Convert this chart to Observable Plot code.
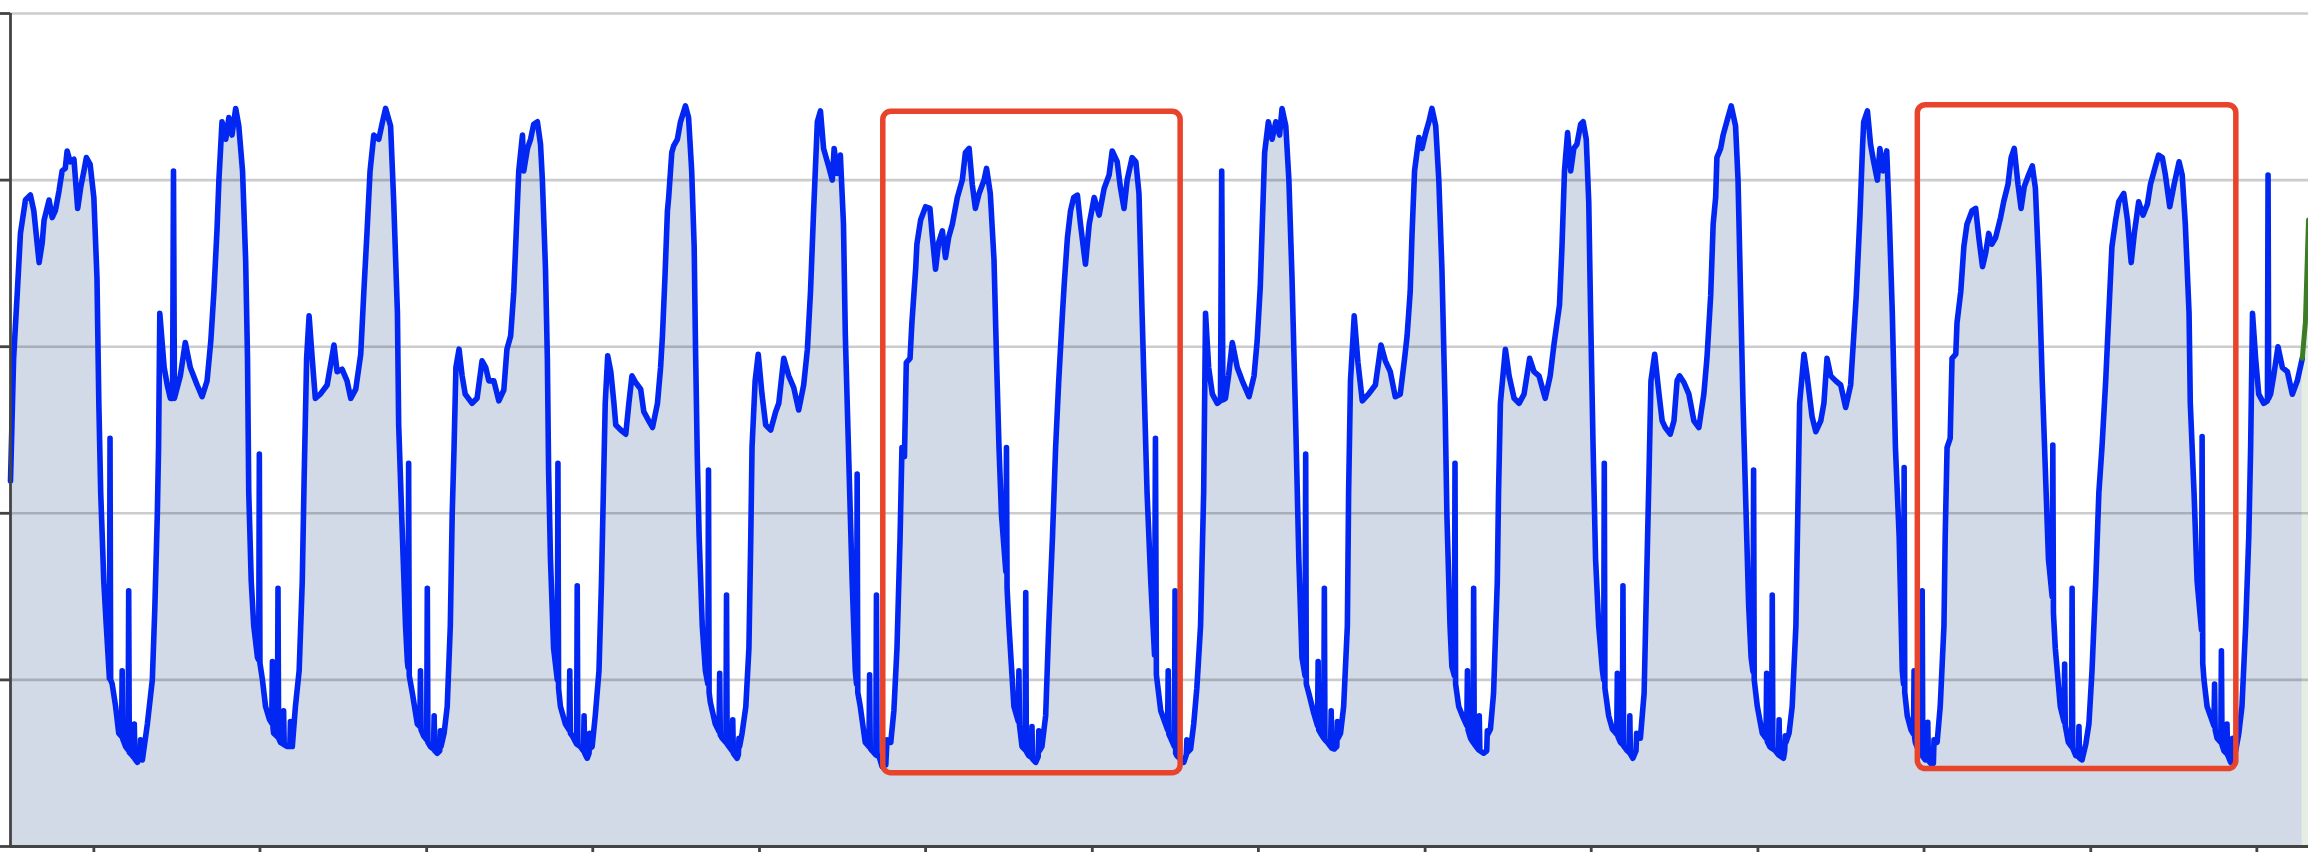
<!DOCTYPE html>
<html><head><meta charset="utf-8">
<script src="https://cdn.jsdelivr.net/npm/d3@7"></script>
<script src="https://cdn.jsdelivr.net/npm/@observablehq/plot@0.6"></script>
<style>html,body{margin:0;padding:0;background:#fff;overflow:hidden}</style>
</head><body><div id="chart"></div>
<script>
// hours since start, value
const day01 = [[0.0,43.9],[0.5,58.6],[1.1,66.6],[1.6,73.6],[2.4,77.6],[3.2,78.2],[3.75,76.3],[4.6,70.1],[5.1,72.5],[5.4,75.2],[6.2,77.6],[6.7,75.5],[7.2,76.3],[7.8,78.7],[8.3,81.1],[8.8,81.4],[9.1,83.5],[9.6,82.2],[10.2,82.5],[10.8,76.6],[11.3,79.2],[11.8,81.1],[12.2,82.7],[12.8,81.9],[13.4,77.9],[13.9,68.3],[14.2,53.2],[14.5,42.5],[15.0,31.8],[15.4,26.5],[15.9,20.2],[16.0,49.0],[16.1,20.0],[16.35,19.5],[16.9,16.8],[17.4,13.6],[17.85,13.2],[17.95,21.1],[18.05,12.9],[18.5,12.0],[18.9,11.6],[19.0,30.7],[19.1,11.3],[19.6,10.9],[19.8,10.7],[19.9,14.7],[20.0,10.5],[20.4,10.1]];
const day02 = [[20.8,10.6],[20.9,12.8],[21.0,10.5],[21.2,10.4],[22.0,14.7],[22.8,20.0],[23.2,28.6],[23.6,39.8],[23.8,47.9],[24.0,64.0],[24.7,57.5],[25.2,55.4],[25.7,53.8],[26.05,53.8],[26.2,81.1],[26.35,53.8],[27.3,56.5],[28.1,60.5],[28.9,57.5],[30.0,55.4],[30.8,54.0],[31.6,55.9],[32.2,60.7],[32.7,66.6],[33.2,74.1],[33.5,80.0],[34.0,87.0],[34.6,84.9],[35.1,87.5],[35.6,85.4],[36.2,88.6],[36.7,86.5],[37.3,81.1],[37.8,70.4],[38.1,58.6],[38.3,42.5],[38.7,31.8],[39.1,26.5],[39.7,22.7],[39.9,22.4],[40.0,47.1],[40.1,22.0],[40.5,20.0],[41.0,16.8],[41.6,15.3],[42.0,14.8],[42.1,22.2],[42.2,14.2],[42.3,13.6],[42.9,13.2],[43.0,31.0],[43.1,13.0],[43.4,12.5],[43.8,12.3],[43.9,16.3],[44.0,12.2],[44.5,12.0]];
const day03 = [[44.9,12.0],[45.0,15.0],[45.1,12.0],[45.3,12.0],[45.8,16.8],[46.4,21.1],[46.9,31.8],[47.2,44.1],[47.6,58.6],[48.0,63.7],[48.5,58.6],[49.0,53.8],[49.8,54.3],[50.9,55.4],[52.0,60.2],[52.5,57.0],[53.3,57.3],[54.1,55.9],[54.7,53.8],[55.5,54.9],[56.3,59.1],[56.8,66.6],[57.3,73.6],[57.8,81.1],[58.4,85.4],[59.2,84.9],[59.8,87.0],[60.3,88.6],[61.1,86.5],[61.6,77.4],[62.2,64.0],[62.4,50.6],[63.0,37.2],[63.5,26.5],[63.8,22.2],[63.9,21.5],[64.0,46.0],[64.1,20.5],[64.6,18.4],[65.4,14.7],[65.8,14.4],[65.9,21.1],[66.0,14.0],[66.4,13.3],[66.9,12.8],[67.0,31.0],[67.1,12.5],[67.5,12.0],[68.0,11.7],[68.1,15.7],[68.2,11.5],[68.6,11.2]];
const day04 = [[69.0,11.5],[69.1,13.9],[69.2,12.0],[69.7,13.6],[70.2,16.8],[70.7,26.5],[71.0,39.8],[71.3,47.9],[71.6,57.5],[72.1,59.7],[72.6,56.5],[73.1,54.3],[74.2,53.2],[75.0,53.8],[75.8,58.3],[76.4,57.5],[76.9,55.9],[77.7,55.9],[78.5,53.5],[79.3,54.8],[79.8,59.7],[80.4,61.3],[80.9,66.6],[81.2,72.0],[81.7,81.1],[82.3,85.4],[82.5,81.1],[83.1,83.8],[83.6,84.9],[84.1,86.7],[84.7,87.0],[85.2,84.3],[85.5,80.0],[86.0,69.3],[86.3,58.6],[86.5,45.2],[86.8,34.5],[87.3,23.8],[87.9,20.0],[88.0,46.0],[88.1,19.0],[88.4,16.8],[89.2,14.7],[89.8,14.0],[89.9,21.1],[90.0,13.6],[90.3,13.3],[91.0,12.3],[91.1,31.3],[91.2,12.2],[91.6,12.0],[92.1,11.5],[92.2,15.7],[92.3,11.2],[92.7,10.6]];
const day05 = [[93.0,11.2],[93.1,13.6],[93.2,11.8],[93.5,12.0],[94.0,15.7],[94.6,21.1],[95.0,31.8],[95.3,42.5],[95.6,53.2],[96.0,58.9],[96.5,57.0],[97.0,53.2],[97.3,50.6],[98.1,50.0],[98.9,49.5],[99.4,53.2],[99.9,56.5],[100.5,55.7],[101.3,54.9],[101.8,52.2],[102.6,51.1],[103.2,50.3],[104.0,53.2],[104.5,57.5],[104.8,61.3],[105.2,68.3],[105.6,76.3],[105.8,77.9],[106.3,83.3],[106.6,84.1],[107.2,84.9],[107.7,87.0],[108.5,88.9],[109.0,87.5],[109.5,81.1],[109.9,72.0],[110.1,60.7],[110.4,46.8],[110.7,37.2],[111.2,26.5],[111.7,21.1],[112.1,19.5],[112.2,45.2],[112.3,18.5],[112.5,17.3],[113.3,14.7],[113.9,13.8],[114.0,20.8],[114.1,13.4],[114.4,13.0],[115.0,12.5],[115.1,30.2],[115.2,12.3],[115.5,12.0],[116.0,11.5],[116.1,15.2],[116.2,11.2],[116.8,10.6]];
const day06 = [[117.0,11.0],[117.1,13.0],[117.2,12.0],[117.6,13.6],[118.2,16.8],[118.7,23.8],[119.0,37.2],[119.2,47.9],[119.7,55.9],[120.2,59.1],[120.8,54.3],[121.4,50.6],[122.2,50.0],[123.0,52.2],[123.5,53.2],[124.3,58.6],[125.1,56.5],[125.9,55.1],[126.7,52.4],[127.5,55.4],[128.1,59.7],[128.6,66.6],[129.1,76.3],[129.7,87.0],[130.2,88.3],[130.7,83.8],[131.5,81.7],[132.1,80.0],[132.4,83.8],[132.9,80.8],[133.4,83.0],[133.9,74.7],[134.2,61.3],[134.8,45.2],[135.3,31.8],[135.8,21.1],[136.0,19.5],[136.1,44.7],[136.2,18.5],[136.6,16.8],[137.4,12.5],[138.0,12.0],[138.1,20.6],[138.2,11.8],[138.5,11.5],[139.1,11.0],[139.2,30.2],[139.3,10.9],[139.6,10.9],[140.1,9.6]];
const day07 = [[140.7,9.8],[140.9,12.8],[141.5,12.5],[142.0,16.3],[142.5,23.8],[143.0,37.2],[143.3,47.9],[143.7,46.8],[144.0,58.1],[144.6,58.6],[144.9,62.9],[145.5,69.3],[145.7,72.3],[146.3,75.2],[147.1,76.8],[147.8,76.6],[148.2,73.1],[148.7,69.3],[149.2,72.5],[149.8,73.9],[150.3,70.7],[150.8,73.1],[151.4,74.7],[152.2,77.9],[153.0,80.0],[153.5,83.3],[154.1,83.8],[154.6,79.5],[155.1,76.6],[155.7,78.4],[156.5,80.0],[156.9,81.4],[157.5,78.4],[158.1,70.4],[158.5,58.6],[158.9,47.9],[159.3,39.8],[160.0,33.0],[160.1,47.9],[160.2,31.0],[160.5,26.5],[161.3,16.8],[162.0,15.0],[162.1,21.1],[162.2,14.5],[162.6,12.0],[163.1,11.6],[163.2,30.5],[163.3,11.4],[163.7,10.9],[164.1,10.7],[164.2,14.4],[164.3,10.5],[164.8,10.1]];
const day08 = [[165.2,10.8],[165.3,13.9],[165.4,11.5],[165.8,12.0],[166.4,15.7],[166.9,26.5],[167.5,37.2],[168.0,47.9],[168.5,55.9],[169.1,64.0],[169.4,67.7],[169.9,73.1],[170.4,76.3],[170.9,77.9],[171.5,78.2],[172.0,74.7],[172.8,69.9],[173.4,74.7],[174.2,77.9],[175.0,75.8],[175.8,79.0],[176.6,80.6],[177.1,83.5],[177.9,82.2],[178.4,79.2],[179.0,76.6],[179.5,80.0],[180.3,82.7],[180.9,82.2],[181.4,78.4],[181.9,64.0],[182.3,53.2],[182.7,42.5],[183.3,31.8],[183.9,23.0],[184.05,49.0],[184.2,20.6],[184.9,16.3],[186.0,14.0],[186.1,21.1],[186.2,13.5],[186.5,13.0],[187.1,12.0],[187.2,30.7],[187.3,11.2],[187.5,10.9],[188.6,10.1]];
const day09 = [[189.0,11.0],[189.1,12.8],[189.2,11.3],[189.7,11.7],[190.2,14.7],[190.7,19.0],[191.3,26.5],[191.8,42.5],[192.1,64.0],[192.6,57.5],[193.2,54.3],[194.0,53.2],[194.5,53.5],[194.7,81.1],[194.9,53.6],[195.3,53.8],[195.8,56.5],[196.4,60.5],[197.2,57.5],[198.0,55.9],[199.1,54.0],[199.9,56.5],[200.4,60.7],[200.9,67.2],[201.2,74.1],[201.6,83.3],[202.2,87.0],[202.8,84.9],[203.4,87.0],[204.0,85.4],[204.4,88.6],[205.0,86.5],[205.5,80.0],[206.0,68.3],[206.6,50.6],[207.1,34.5],[207.6,22.7],[208.1,20.5],[208.2,47.1],[208.3,19.5],[208.7,18.4],[209.5,16.0],[210.1,14.5],[210.2,22.2],[210.3,14.0],[210.6,13.6],[211.1,13.0],[211.2,31.0],[211.3,12.8],[211.7,12.5],[212.2,12.0],[212.3,16.3],[212.4,11.8],[212.8,11.7]];
const day10 = [[213.2,12.0],[213.3,15.0],[213.4,13.0],[213.8,13.6],[214.3,16.8],[214.9,26.5],[215.1,42.5],[215.4,55.9],[216.0,63.7],[216.6,58.1],[217.3,53.5],[218.3,54.3],[219.4,55.4],[220.3,60.2],[221.0,58.3],[221.8,57.0],[222.6,54.0],[223.4,54.3],[224.1,58.6],[224.5,61.3],[225.0,66.6],[225.3,73.6],[225.7,81.1],[226.4,85.1],[226.9,83.8],[227.5,85.7],[228.0,87.0],[228.5,88.6],[229.1,86.5],[229.6,80.0],[230.1,69.3],[230.6,53.2],[230.9,39.8],[231.4,26.5],[231.7,21.6],[232.1,20.5],[232.2,46.0],[232.3,19.5],[232.8,16.8],[233.5,15.5],[234.1,14.5],[234.2,21.1],[234.3,14.0],[234.7,13.0],[235.1,12.5],[235.2,31.0],[235.3,12.3],[235.6,12.0],[236.0,11.6],[236.1,15.7],[236.2,11.5],[236.8,11.2]];
const day11 = [[237.3,11.5],[237.4,13.9],[237.5,13.5],[237.9,14.1],[238.4,18.4],[239.0,31.8],[239.2,42.5],[239.5,53.2],[240.3,59.7],[240.9,56.5],[241.7,53.8],[242.5,53.2],[243.3,54.3],[244.2,58.6],[244.9,57.0],[245.7,56.5],[246.7,53.8],[247.5,56.5],[248.1,60.2],[248.6,62.9],[249.0,65.0],[249.4,72.0],[249.8,81.1],[250.3,85.7],[250.8,81.1],[251.3,83.8],[251.8,84.3],[252.4,86.7],[252.8,87.0],[253.3,84.9],[253.7,77.4],[254.0,64.0],[254.4,47.9],[254.8,34.5],[255.3,26.5],[255.9,21.1],[256.1,20.0],[256.2,46.0],[256.3,19.0],[256.9,15.7],[257.5,14.1],[258.2,13.5],[258.3,20.8],[258.4,13.2],[258.8,12.5],[259.1,12.3],[259.2,31.3],[259.3,12.1],[259.9,11.5],[260.2,11.3],[260.3,15.7],[260.4,11.1],[260.8,10.6]];
const day12 = [[261.3,11.5],[261.4,13.6],[261.5,13.0],[262.0,13.0],[262.6,18.4],[263.0,31.8],[263.4,45.2],[263.7,55.9],[264.3,59.1],[265.0,54.3],[265.5,51.1],[266.0,50.3],[266.8,49.5],[267.4,51.1],[267.9,55.9],[268.3,56.5],[269.0,55.7],[269.8,54.3],[270.6,51.1],[271.4,50.3],[272.2,54.3],[272.7,58.6],[273.3,66.1],[273.7,74.7],[274.1,77.9],[274.3,82.7],[274.9,83.8],[275.3,85.4],[276.0,87.3],[276.6,88.9],[277.3,86.5],[277.7,80.0],[278.1,66.6],[278.5,53.2],[278.9,42.5],[279.4,29.1],[279.8,22.7],[280.1,21.0],[280.2,45.2],[280.3,20.0],[280.8,16.8],[281.6,13.6],[282.2,13.0],[282.3,20.8],[282.4,12.6],[282.8,12.0],[283.1,11.8],[283.2,30.2],[283.3,11.7],[283.7,11.5],[284.2,11.0],[284.3,15.2],[284.4,10.9],[285.0,10.6]];
const day13 = [[285.2,11.5],[285.3,13.3],[285.4,12.5],[285.9,13.6],[286.4,16.8],[287.0,26.5],[287.3,39.8],[287.6,53.2],[288.3,59.1],[288.8,56.5],[289.6,51.6],[290.2,49.8],[291.0,51.1],[291.5,53.2],[292.0,58.6],[292.6,56.5],[293.4,55.9],[294.2,55.4],[295.0,52.7],[295.8,55.4],[296.3,61.3],[296.7,66.1],[297.3,75.8],[297.7,83.8],[297.9,87.0],[298.5,88.3],[299.0,84.3],[299.5,82.2],[300.1,80.0],[300.5,83.8],[301.0,81.1],[301.6,83.5],[302.0,75.8],[302.5,64.0],[303.0,47.9],[303.6,37.2],[304.1,21.1],[304.3,19.5],[304.4,45.5],[304.5,18.5],[304.9,15.7],[305.5,14.0],[305.9,13.5],[306.0,21.1],[306.1,13.0],[306.2,12.5],[306.9,11.2],[307.2,11.0],[307.3,30.7],[307.4,10.8],[307.8,10.4],[308.1,10.6],[308.2,14.9],[308.3,10.3],[308.9,9.8]];
const day14 = [[309.1,10.0],[309.2,12.8],[309.3,12.4],[309.7,12.5],[310.2,16.8],[310.8,26.5],[311.0,37.2],[311.3,47.9],[311.8,49.0],[312.1,58.6],[312.7,59.1],[312.9,62.9],[313.5,66.6],[314.0,72.0],[314.5,74.7],[315.3,76.3],[315.9,76.6],[316.4,73.1],[317.0,69.6],[317.5,71.2],[318.0,73.6],[318.5,72.3],[319.1,73.1],[319.9,75.5],[320.4,77.4],[321.1,79.5],[321.6,82.7],[322.1,83.8],[322.7,79.5],[323.2,76.6],[323.7,79.2],[324.4,80.6],[325.0,81.7],[325.5,79.0],[326.1,68.3],[326.6,55.9],[327.1,45.2],[327.6,34.5],[328.2,30.0],[328.3,48.2],[328.4,28.0],[328.7,23.8],[329.5,16.8],[330.1,15.0],[330.2,21.9],[330.3,14.5],[330.8,12.5],[331.3,12.0],[331.4,31.0],[331.5,11.8],[332.0,10.9],[332.4,10.8],[332.5,14.4],[332.6,10.6],[333.0,10.4]];
const day15 = [[333.6,12.3],[334.1,14.7],[334.6,21.1],[335.2,31.8],[335.7,42.5],[336.2,47.9],[336.8,55.9],[337.3,64.0],[337.8,72.0],[338.4,75.2],[338.9,77.4],[339.7,78.4],[340.3,75.2],[340.9,70.1],[341.4,73.6],[342.1,77.4],[342.8,75.8],[343.5,77.1],[344.0,79.5],[344.8,81.7],[345.3,83.0],[345.9,82.7],[346.4,80.6],[347.1,76.8],[347.8,79.5],[348.6,82.2],[349.1,80.6],[349.6,74.7],[350.2,64.0],[350.4,53.2],[351.0,42.5],[351.5,31.8],[352.2,26.0],[352.3,49.2],[352.4,22.0],[352.6,20.0],[353.1,16.8],[354.2,14.5],[354.3,19.5],[354.4,14.0],[354.7,13.0],[355.3,12.5],[355.4,23.5],[355.5,12.2],[355.8,11.5],[356.2,11.2],[356.3,14.7],[356.4,11.0],[356.9,10.1]];
const day16 = [[357.1,10.5],[357.2,13.0],[357.3,12.0],[357.7,11.5],[358.2,13.6],[358.7,16.8],[359.3,26.5],[359.8,37.2],[360.1,47.9],[360.4,64.0],[360.9,58.6],[361.4,54.3],[362.2,53.2],[362.8,53.5],[362.9,80.6],[363.0,53.8],[363.3,54.3],[363.8,56.5],[364.5,60.0],[365.2,57.5],[366.0,57.0],[366.8,54.3],[367.6,55.9],[368.4,58.6]];
const forecast = [[368.4,58.6],[368.9,62.9],[369.4,75.2]];

// highlighted weekend periods (hours, value range)
const weekendStart = [140.3, 306.6];
const weekendEnd = [188.1, 357.8];
const weekendLow = [8.8, 9.3];
const weekendHigh = [88.2, 89.0];

const xTicks = [13.4, 40.1, 66.9, 93.6, 120.4, 147.1, 173.9, 200.6, 227.4, 254.1, 280.9, 307.6, 334.4, 361.1];
const yTicks = [0, 20, 40, 60, 80, 100];
const gridValues = [20, 40, 60, 80, 100];

const toRows = a => a.map(([t, v]) => ({t, v}));
const actual = toRows([...day01, ...day02, ...day03, ...day04, ...day05, ...day06, ...day07, ...day08,
  ...day09, ...day10, ...day11, ...day12, ...day13, ...day14, ...day15, ...day16]);
const fc = toRows(forecast);
const boxes = weekendStart.map((s, i) => ({s, e: weekendEnd[i], lo: weekendLow[i], hi: weekendHigh[i]}));

const chart = Plot.plot({
  width: 2308, height: 852,
  marginTop: 13, marginBottom: 6, marginLeft: 10, marginRight: 0,
  x: {domain: [0, 369.4]},
  y: {domain: [0, 100]},
  marks: [
    Plot.areaY(fc, {x: "t", y: "v", fill: "#e6eee3"}),
    Plot.areaY(actual, {x: "t", y: "v", fill: "#d1dae6"}),
    Plot.ruleY(gridValues, {stroke: "#000", strokeOpacity: 0.2, strokeWidth: 2.6}),
    Plot.line(actual, {x: "t", y: "v", stroke: "#0327f2", strokeWidth: 5.6, strokeLinejoin: "round"}),
    Plot.line(fc, {x: "t", y: "v", stroke: "#3b7d24", strokeWidth: 5}),
    Plot.rect(boxes, {x1: "s", x2: "e", y1: "lo", y2: "hi", fill: "none", stroke: "#e8432b", strokeWidth: 5.5, rx: 8}),
    Plot.ruleX([0], {stroke: "#444", strokeWidth: 2.8}),
    Plot.ruleY([0], {stroke: "#444", strokeWidth: 2.8}),
    Plot.axisY({ticks: yTicks, tickSize: 10, tickFormat: () => "", label: null, stroke: "#444", strokeWidth: 2.8}),
    Plot.axisX({ticks: xTicks, tickSize: 7, tickFormat: () => "", label: null, stroke: "#444", strokeWidth: 2.8})
  ]
});
document.getElementById("chart").appendChild(chart);
</script>
</body></html>
